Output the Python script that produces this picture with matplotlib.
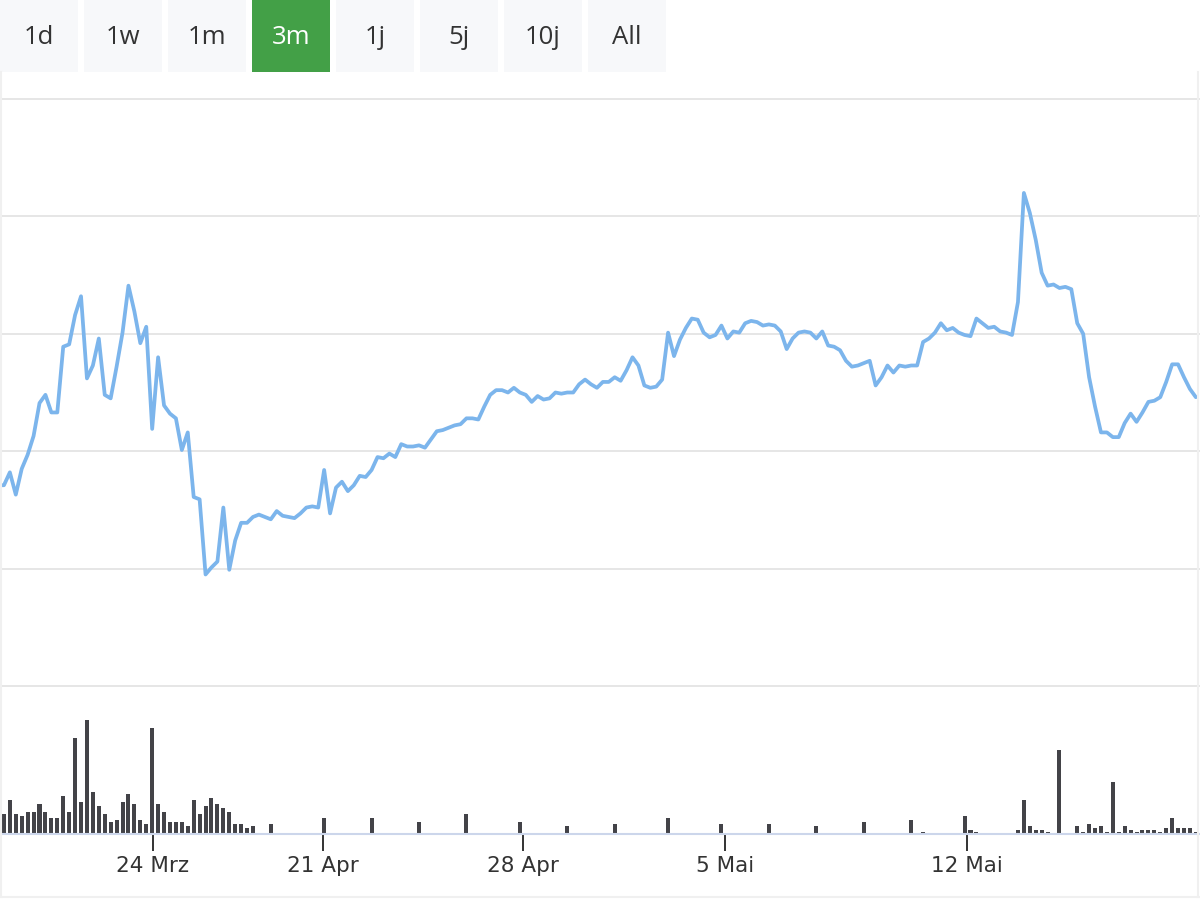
import matplotlib.pyplot as plt
from matplotlib.patches import Rectangle
from matplotlib.lines import Line2D
import numpy as np

# range selector
range_buttons = ["1d", "1w", "1m", "3m", "1j", "5j", "10j", "All"]
active_button = "3m"

# price series (one value per trading slot, ordinal axis)
price = [
    11.71, 11.71, 11.82, 11.63, 11.85, 11.97, 12.13, 12.41, 12.48, 12.33,
    12.33, 12.89, 12.91, 13.16, 13.32, 12.62, 12.73, 12.96, 12.48, 12.45,
    12.72, 13.01, 13.41, 13.19, 12.92, 13.06, 12.19, 12.80, 12.39, 12.32,
    12.28, 12.01, 12.16, 11.61, 11.59, 10.95, 11.01, 11.06, 11.52, 10.99,
    11.24, 11.39, 11.39,
    11.44, 11.46, 11.44, 11.42, 11.49, 11.45, 11.44, 11.43, 11.47, 11.52,
    11.53, 11.52, 11.84, 11.47, 11.69, 11.74, 11.66, 11.71, 11.79, 11.78,
    11.84, 11.95, 11.94, 11.98, 11.95, 12.06, 12.04, 12.04, 12.05, 12.03,
    12.10, 12.17, 12.18, 12.20, 12.22, 12.23, 12.28, 12.28, 12.27, 12.38,
    12.48, 12.52,
    12.52, 12.50, 12.54, 12.50, 12.48, 12.42, 12.47, 12.44, 12.45, 12.50,
    12.49, 12.50, 12.50, 12.57, 12.61, 12.57, 12.54, 12.59, 12.59, 12.63,
    12.60, 12.69, 12.80, 12.73, 12.56, 12.54, 12.55, 12.61, 13.01, 12.81,
    12.95, 13.05, 13.13, 13.12, 13.01, 12.97, 12.99, 13.07,
    12.96, 13.02, 13.01, 13.09, 13.11, 13.10, 13.07, 13.08, 13.07, 13.02,
    12.87, 12.96, 13.01, 13.02, 13.01, 12.96, 13.02, 12.90, 12.89, 12.86,
    12.77, 12.72, 12.73, 12.75, 12.77, 12.56, 12.63, 12.73, 12.67, 12.73,
    12.72, 12.73, 12.73, 12.93, 12.96, 13.01, 13.09, 13.03, 13.05, 13.01,
    12.99, 12.98, 13.13, 13.09, 13.05, 13.06, 13.02, 13.01, 12.99, 13.27,
    14.20, 14.03, 13.80, 13.52, 13.41, 13.42, 13.39, 13.40, 13.38, 13.09,
    13.00, 12.63, 12.38, 12.16, 12.16, 12.12, 12.12, 12.24, 12.32, 12.25,
    12.33, 12.42, 12.43, 12.46, 12.59, 12.74, 12.74, 12.63, 12.53, 12.46,
]

# volume (slot index -> volume, k)
vol_slot = list(range(1, 44)) + [
    46, 55, 63, 71, 79, 88, 96, 104, 113, 122, 130, 138, 146, 154, 156,
    163, 164, 165, 172, 173, 174, 175, 176, 177, 179, 182, 183, 184, 185,
    186, 187, 188, 189, 190, 191, 192, 193, 194, 195, 196, 197, 198, 199,
    200, 201, 202,
]
volume = [
    20, 34, 20, 18, 22, 22, 30, 22, 16, 16, 38, 22, 96, 32, 114, 42, 28,
    20, 12, 14, 32, 40, 30, 14, 10, 106, 30, 22, 12, 12, 12, 8, 34, 20,
    28, 36, 30, 26, 22, 10, 10, 6, 8,
    10, 16, 16, 12, 20, 12, 8, 10, 16, 10, 10, 8, 12, 14, 2,
    18, 4, 2, 4, 34, 8, 4, 4, 2, 84, 8, 2, 10, 6,
    8, 2, 52, 2, 8, 4, 2, 4, 4, 4, 2, 6, 16, 6,
    6, 6, 2,
]

# date ticks (ordinal positions)
tick_slot = [26.1, 54.8, 88.6, 122.6, 163.4]
tick_labels = ["24 Mrz", "21 Apr", "28 Apr", "5 Mai", "12 Mai"]

W, H = 1200, 900
fig = plt.figure(figsize=(12, 9), dpi=100)
fig.patch.set_facecolor('white')

def fx(px):
    return px / W

def fy(py):
    return 1 - py / H

# buttons
for k, lab in enumerate(range_buttons):
    left = k * 84
    on = lab == active_button
    fig.patches.append(Rectangle((fx(left), fy(72)), fx(78), 72 / H,
                                 transform=fig.transFigure,
                                 facecolor='#43a047' if on else '#f7f8fa',
                                 edgecolor='none'))
    fig.text(fx(left + 39), fy(37), lab, ha='center', va='center',
             fontsize=18.5, family='Open Sans',
             color='white' if on else '#333333')

# container border
for xs, ys in [([0.8, 0.8], [72, 897]), ([1198, 1198], [72, 897]),
               ([0, 1200], [897, 897])]:
    fig.add_artist(Line2D([fx(v) for v in xs], [fy(v) for v in ys],
                          color='#f0f0f0', lw=1.5))

x = np.arange(len(price))
xlim = (0.337, 202.7)

# price panel
ax = fig.add_axes([0, fy(686), 1, (686 - 99) / H])
ax.plot(x, price, color='#7cb5ec', lw=2.7, solid_joinstyle='round',
        solid_capstyle='round', zorder=3)
ax.set_xlim(*xlim)
ax.set_ylim(10, 15)
ax.set_yticks(range(10, 16))
ax.set_xticks([])
ax.grid(axis='y', color='#e6e6e6', lw=1.4)
for gl in ax.get_ygridlines():
    gl.set_clip_on(False)
ax.tick_params(axis='y', length=0, labelleft=False)
for s in ax.spines.values():
    s.set_visible(False)
ax.set_facecolor('none')

# volume panel
vax = fig.add_axes([0, fy(834), 1, (834 - 686) / H])
vax.bar(vol_slot, volume, width=0.68, color='#434348')
vax.set_xlim(*xlim)
vax.set_ylim(0, 148)
vax.set_yticks([])
vax.set_xticks(tick_slot, tick_labels)
vax.tick_params(axis='x', length=12.5, width=1.4, color='#333333',
                labelsize=15.5, labelcolor='#333333', pad=3)
for s in ['top', 'left', 'right']:
    vax.spines[s].set_visible(False)
vax.spines['bottom'].set_color('#ccd6eb')
vax.spines['bottom'].set_linewidth(1.5)
vax.set_facecolor('none')

plt.savefig('out.png', dpi=100)
